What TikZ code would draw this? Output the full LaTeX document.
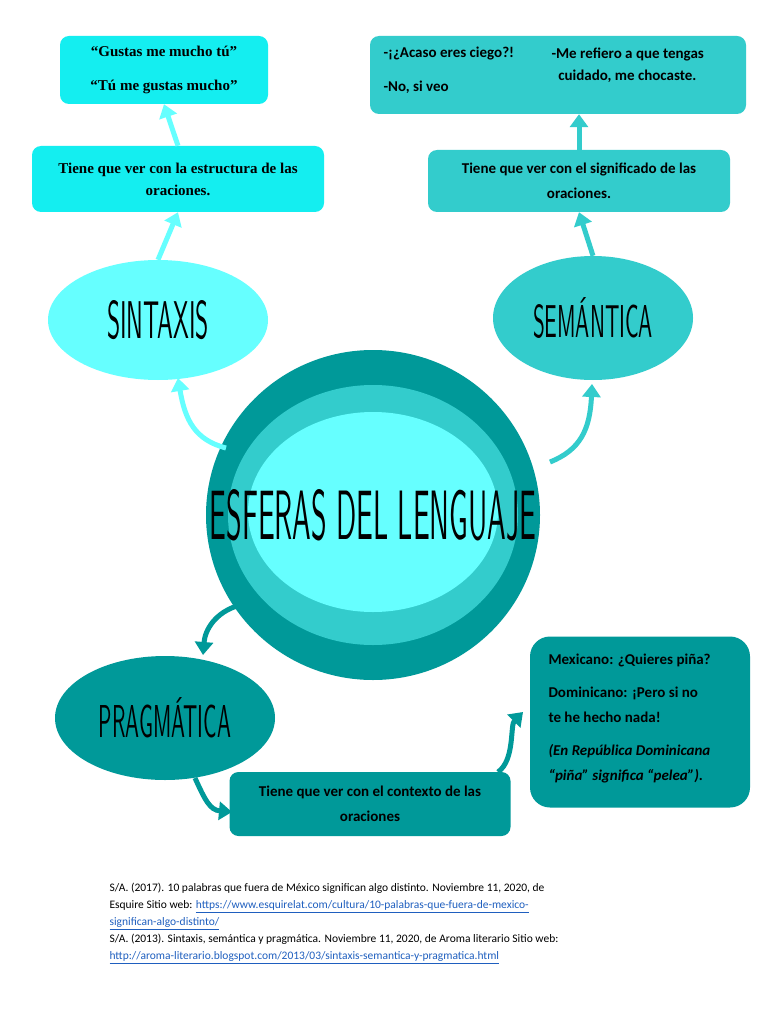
\documentclass[tikz,border=0pt]{standalone}
\usepackage{fontspec}
\setmainfont{Carlito}
\newfontfamily\timesf{Liberation Serif}
\usetikzlibrary{arrows.meta,shapes.geometric}
\definecolor{cyanA}{HTML}{14EEF0}
\definecolor{cyanL}{HTML}{66FFFF}
\definecolor{tealM}{HTML}{33CCCC}
\definecolor{tealD}{HTML}{009999}
\definecolor{linkb}{HTML}{1F5FBF}
\tikzset{
 box/.style={rounded corners=9pt,draw=none,inner sep=0pt,align=center},
 oval/.style={ellipse,draw=none,inner sep=0pt},
 arr/.style={line width=5pt,-{Triangle[length=13pt,width=18pt]}},
 ttl/.style={font=\sffamily}
}
\newcommand{\cond}[3]{\resizebox{#1pt}{#2pt}{\sffamily #3}}
\begin{document}
\begin{tikzpicture}[x=1pt,y=-1pt]
\useasboundingbox[fill=white] (0,0) rectangle (768,1024);
% top-left
\node[box,fill=cyanA,minimum width=208pt,minimum height=68pt,font=\timesf\bfseries\fontsize{15}{34}\selectfont] (b1) at (164,70) {“Gustas me mucho tú”\\“Tú me gustas mucho”};
\node[box,fill=cyanA,minimum width=292pt,minimum height=66pt,font=\timesf\bfseries\fontsize{15}{22}\selectfont] (b2) at (178,179) {Tiene que ver con la estructura de las\\oraciones.};
\node[oval,fill=cyanL,minimum width=220pt,minimum height=120pt] (sin) at (158,320) {\cond{102}{38}{SINTAXIS}};
% top-right
\node[box,fill=tealM,minimum width=376pt,minimum height=78pt] (b3) at (558,75) {};
\node[anchor=west,font=\bfseries\fontsize{15}{34}\selectfont,align=left] (b3a) at (380,70) {-¡¿Acaso eres ciego?!\\-No, si veo};
\node[anchor=west,font=\bfseries\fontsize{15}{22}\selectfont,align=left] (b3b) at (548,65) {-Me refiero a que tengas\\\ \ cuidado, me chocaste.};
\node[box,fill=tealM,minimum width=302pt,minimum height=62pt,font=\bfseries\fontsize{15}{25}\selectfont] (b4) at (579,181) {Tiene que ver con el significado de las\\oraciones.};
\node[oval,fill=tealM,minimum width=200pt,minimum height=124pt] (sem) at (593,318) {\cond{120}{40}{SEMÁNTICA}};
% centre
\node[oval,fill=tealD,minimum width=334pt,minimum height=330pt] (c1) at (373,515) {};
\node[oval,fill=tealM,minimum width=290pt,minimum height=260pt] (c2) at (373,515) {};
\node[oval,fill=cyanL,minimum width=250pt,minimum height=200pt] (c3) at (373,512) {};
\node (ttl) at (373,515) {\cond{326}{50}{ESFERAS DEL LENGUAJE}};
% bottom
\node[oval,fill=tealD,minimum width=220pt,minimum height=124pt] (pra) at (165,718) {\cond{132}{40}{PRAGMÁTICA}};
\node[box,fill=tealD,minimum width=281pt,minimum height=64pt,font=\bfseries\fontsize{15}{25}\selectfont] (b5) at (370,804) {Tiene que ver con el contexto de las\\oraciones};
\node[box,fill=tealD,minimum width=220pt,minimum height=171pt,rounded corners=20pt] (b6) at (640,722) {};
\node[anchor=north west,font=\bfseries\fontsize{15}{25}\selectfont,align=left] (b6t) at (545,650) {Mexicano: ¿Quieres piña?\\[8pt]Dominicano: ¡Pero si no\\te he hecho nada!\\[8pt]\textit{(En República Dominicana}\\\textit{“piña” significa “pelea”).}};
% arrows
\draw[arr,draw=cyanL,fill=cyanL] (b2.north) -- (b1.south);
\draw[arr,draw=cyanL] (sin.north) -- (b2.south);
\draw[arr,draw=tealM] (b4.north) -- (b3.south -| b4.north);
\draw[arr,draw=tealM] (sem.north) -- (b4.south);
\coordinate (s0) at (226,448); \coordinate (s1) at (178,378);
\draw[arr,draw=cyanL] (s0) .. controls (195,440) and (185,420) .. (s1);
\coordinate (m0) at (550,462); \coordinate (m1) at (592,384);
\draw[arr,draw=tealM] (m0) .. controls (580,450) and (590,430) .. (m1);
\coordinate (p0) at (240,605); \coordinate (p1) at (203,655);
\draw[arr,draw=tealD] (p0) .. controls (215,612) and (205,630) .. (p1);
\coordinate (q0) at (195,778); \coordinate (q1) at (232,812);
\draw[arr,draw=tealD] (q0) .. controls (205,800) and (210,810) .. (q1);
\coordinate (r0) at (498,772); \coordinate (r1) at (523,712);
\draw[arr,draw=tealD] (r0) .. controls (515,760) and (510,725) .. (r1);
% references
\node[anchor=north west,align=left,font=\fontsize{11.5}{17}\selectfont] (ref) at (106,880) {S/A. (2017). 10 palabras que fuera de México significan algo distinto. Noviembre 11, 2020, de\\Esquire Sitio web: \textcolor{linkb}{\underline{https://www.esquirelat.com/cultura/10-palabras-que-fuera-de-mexico-}}\\\textcolor{linkb}{\underline{significan-algo-distinto/}}\\S/A. (2013). Sintaxis, semántica y pragmática. Noviembre 11, 2020, de Aroma literario Sitio web:\\\textcolor{linkb}{\underline{http://aroma-literario.blogspot.com/2013/03/sintaxis-semantica-y-pragmatica.html}}};
\end{tikzpicture}
\end{document}
